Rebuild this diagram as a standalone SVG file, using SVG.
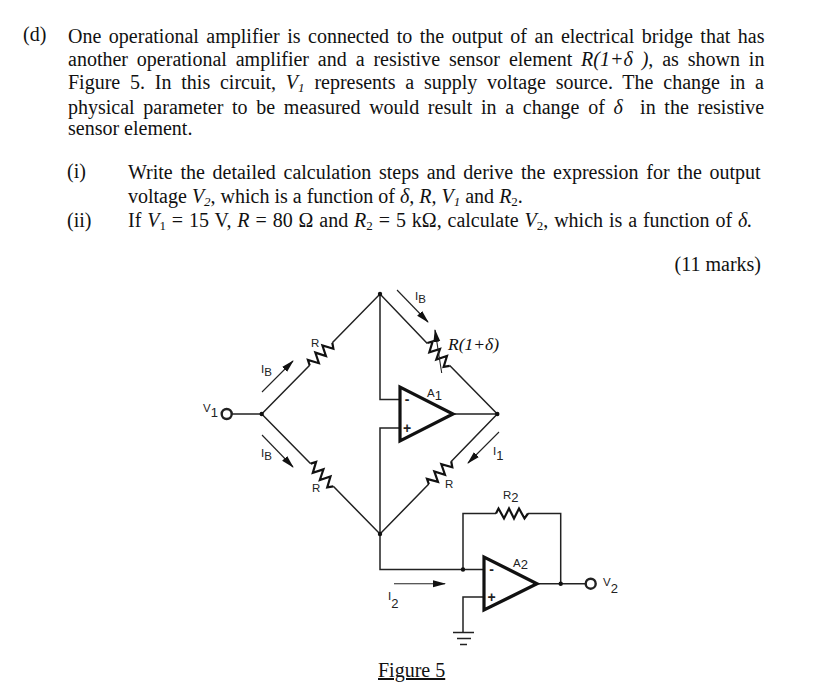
<svg xmlns="http://www.w3.org/2000/svg" width="819" height="691" viewBox="0 0 819 691">
<style>
.t{font-family:"Liberation Serif","Times New Roman",serif;font-size:20px;fill:#111}
.i{font-style:italic}
.s{font-size:13px}
.c{font-family:"Liberation Sans",Arial,sans-serif;font-size:11.5px;fill:#222}
.u{font-size:13px}
.m{font-family:"Liberation Sans",Arial,sans-serif;font-size:14px;font-weight:bold;fill:#222;text-anchor:middle}
.w{fill:none;stroke:#222;stroke-width:1.5;stroke-linejoin:miter}
.r{fill:none;stroke:#111;stroke-width:2.2}
.o{fill:none;stroke:#111;stroke-width:3.2}
.a{fill:none;stroke:#222;stroke-width:1.1}
.d{fill:#111}
.p{fill:#fff;stroke:#222;stroke-width:2.4}
</style>
<defs>
<marker id="ah" markerUnits="userSpaceOnUse" markerWidth="14" markerHeight="10" refX="12" refY="5" orient="auto"><path d="M0 1.500L13 5L0 8.500Z" fill="#111"/></marker>
<path id="res" class="r" d="M-16 0L-13.500 -5L-8 5L-3 -5L2 5L7 -5L12.500 5L16 0"/>
</defs>
<rect width="819" height="691" fill="#fff"/>
<g id="question">
<text class="t" x="23" y="41">(d)</text>
<text class="t" x="68" y="42.500" word-spacing="2.53">One operational amplifier is connected to the output of an electrical bridge that has</text>
<text class="t" x="68" y="66" word-spacing="3.88">another operational amplifier and a resistive sensor element <tspan class="i">R(1+δ )</tspan>, as shown in</text>
<text class="t" x="68" y="89" word-spacing="4.8">Figure 5. In this circuit, <tspan class="i">V<tspan class="s" dy="3">1</tspan></tspan><tspan dy="-3"> represents a supply voltage source. The change in a</tspan></text>
<text class="t" x="68" y="113.500" word-spacing="3.7">physical parameter to be measured would result in a change of <tspan class="i">δ</tspan>  <tspan dx="8.600">in the resistive</tspan></text>
<text class="t" x="68" y="135">sensor element.</text>
<text class="t" x="67" y="178">(i)</text>
<text class="t" x="128" y="179" word-spacing="2.7">Write the detailed calculation steps and derive the expression for the output</text>
<text class="t" x="128" y="203">voltage <tspan class="i">V<tspan class="s" dy="3">2</tspan></tspan><tspan dy="-3">, which is a function of </tspan><tspan class="i">δ, R, V<tspan class="s" dy="3">1</tspan></tspan><tspan dy="-3"> and </tspan><tspan class="i">R</tspan><tspan class="s" dy="3">2</tspan><tspan dy="-3">.</tspan></text>
<text class="t" x="67" y="227">(ii)</text>
<text class="t" x="128" y="227" word-spacing="0.9">If <tspan class="i">V</tspan><tspan class="s" dy="3">1</tspan><tspan dy="-3"> = 15 V, </tspan><tspan class="i">R</tspan> = 80 Ω and <tspan class="i">R</tspan><tspan class="s" dy="3">2</tspan><tspan dy="-3"> = 5 kΩ, calculate </tspan><tspan class="i">V</tspan><tspan class="s" dy="3">2</tspan><tspan dy="-3">, which is a function of </tspan><tspan class="i">δ.</tspan></text>
<text class="t" x="761" y="271" text-anchor="end">(11 marks)</text>
</g>
<g id="connectors">
<path class="w" d="M231.700 414H261.700L309.700 365.300M332.300 342.700L380 294L427.300 343.500M449.700 365.500L497.300 414H453"/>
<path class="w" d="M261.700 414L310.700 463.700M333.300 486.300L380 534L428.800 484M451.200 461.400L497.300 414"/>
<path class="w" d="M380 294V399.500H400M400 428H380V534V569.500H484"/>
<path class="w" d="M463 569.500V513.500H496M528 513.500H560.700V583.700M537 583.700H585.700"/>
<path class="w" d="M484 597H463V632"/>
<path class="a" marker-end="url(#ah)" d="M397 290L428 322"/>
<path class="a" marker-end="url(#ah)" d="M262 392L293 361"/>
<path class="a" marker-end="url(#ah)" d="M262 435L293 467"/>
<path class="a" marker-end="url(#ah)" d="M499 432L468 463"/>
<path class="a" marker-end="url(#ah)" d="M394 583.700H445"/>
<circle class="d" cx="380" cy="294" r="2.200"/><circle class="d" cx="261.700" cy="414" r="2.200"/><circle class="d" cx="497.300" cy="414" r="2.200"/><circle class="d" cx="380" cy="534" r="2.200"/><circle class="d" cx="463" cy="569.500" r="2.200"/><circle class="d" cx="560.700" cy="583.700" r="2.200"/>
</g>
<g id="terminal-v1"><circle class="p" cx="226.700" cy="414" r="5"/><text class="c" x="203" y="412">V<tspan class="u" dy="5">1</tspan></text></g>
<g id="r-upper-left"><use href="#res" transform="translate(321 354) rotate(-45)"/><text class="c" x="311" y="347">R</text></g>
<g id="r-sensor"><use href="#res" transform="translate(438.500 354.500) rotate(45.700)"/><path class="a" marker-end="url(#ah)" d="M441.700 373L435 330"/><text class="t i" style="font-size:17.500px" x="448" y="350">R(1+δ)</text></g>
<g id="r-lower-left"><use href="#res" transform="translate(322 475) rotate(45.300)"/><text class="c" x="312" y="492">R</text></g>
<g id="r-lower-right"><use href="#res" transform="translate(440 472.700) rotate(-45.700)"/><text class="c" x="445" y="488">R</text></g>
<g id="r2"><use href="#res" transform="translate(512 513.500)"/><text class="c" x="503" y="499">R<tspan class="u" dy="3">2</tspan></text></g>
<g id="opamp-a1"><path class="o" d="M400 387V441L453 414Z"/><text class="c" x="427" y="397">A<tspan class="u" dy="3">1</tspan></text><text class="m" x="407" y="404">-</text><text class="m" x="407" y="433">+</text></g>
<g id="opamp-a2"><path class="o" d="M484 557V610L537 583.700Z"/><text class="c" x="513" y="567">A<tspan class="u" dy="2">2</tspan></text><text class="m" x="491.700" y="574">-</text><text class="m" x="491.700" y="602">+</text></g>
<g id="terminal-v2"><circle class="p" cx="590.700" cy="583.700" r="5"/><text class="c" x="603" y="586">V<tspan class="u" dy="7">2</tspan></text></g>
<g id="ground"><path class="w" d="M453 632.500H474M457 638.500H471M460 644.500H467"/></g>
<g id="current-labels">
<text class="c" x="415" y="300">I<tspan dy="3">B</tspan></text>
<text class="c" x="261" y="373">I<tspan dy="3">B</tspan></text>
<text class="c" x="261" y="457">I<tspan dy="3">B</tspan></text>
<text class="c" x="493" y="455">I<tspan class="u" dy="5">1</tspan></text>
<text class="c" x="388" y="600">I<tspan class="u" dy="8">2</tspan></text>
</g>
<g id="caption"><text class="t" x="378" y="677" text-decoration="underline">Figure 5</text></g>
</svg>
